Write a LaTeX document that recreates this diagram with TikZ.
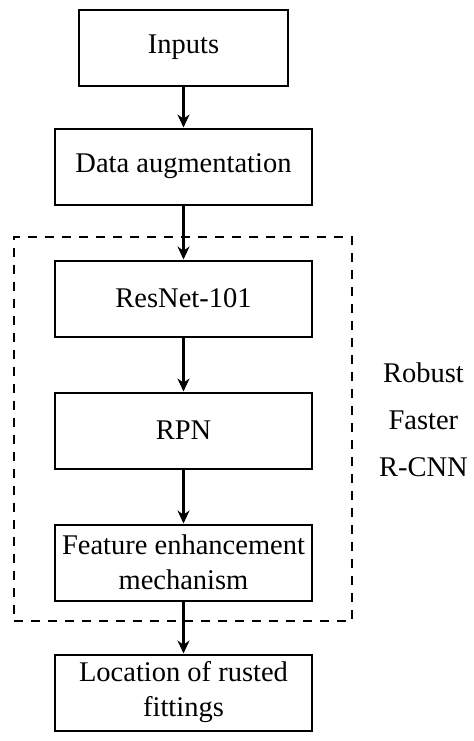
\documentclass[tikz,border=0pt]{standalone}
\usepackage{fontspec}
\setmainfont{Liberation Serif}
\usepackage{tikz}
\usetikzlibrary{arrows.meta}
\usetikzlibrary{calc}
\usetikzlibrary{fit}
\usetikzlibrary{positioning}
\tikzset{
    arrow/.style={-{Stealth[length=6.5pt,width=6pt]}, line width=1.5pt},
    box/.style = {
      draw,
      line width=1pt,
      rectangle,
      minimum width=128.5pt,
      minimum height=38pt,
      align=center,
      inner sep=2pt
    },
    dashbox/.style = {
      draw,
      line width=1pt,
      dash pattern=on 4.5pt off 4pt,
      rectangle,
      inner sep=0pt
    },
}
\begin{document}
\begin{tikzpicture}[node distance=27pt, font=\fontsize{14.25}{17.5}\selectfont]
      \useasboundingbox (0,0) rectangle (237pt,-370.5pt);

      \node[box, minimum width=104.5pt] (inputs) at (91.75pt,-23.75pt) {Inputs};
      \node[box, below=20.5pt of inputs] (augment) {Data augmentation};
      \node[box, below=of augment] (resnet) {ResNet-101};
      \node[box, below=of resnet] (rpn) {RPN};
      \node[box, below=of rpn] (feature) {Feature enhancement\\mechanism};
      \node[box, below=26pt of feature] (location) {Location of rusted\\fittings};

      \coordinate (robusttl) at ($(resnet.north west)+(-20pt,11.5pt)$);
      \coordinate (robustbr) at ($(feature.south east)+(19.5pt,-9.5pt)$);
      \node[dashbox, fit=(robusttl) (robustbr)] (robust) {};
      \node[right=9.5pt of robust, yshift=4.5pt, align=center, font=\fontsize{14.25}{23.5}\selectfont] (robustlabel) {Robust\\Faster\\R-CNN};

      \draw[arrow] (inputs) -- (augment);
      \draw[arrow] (augment) -- (resnet);
      \draw[arrow] (resnet) -- (rpn);
      \draw[arrow] (rpn) -- (feature);
      \draw[arrow] (feature) -- (location);
    \end{tikzpicture}
\end{document}
